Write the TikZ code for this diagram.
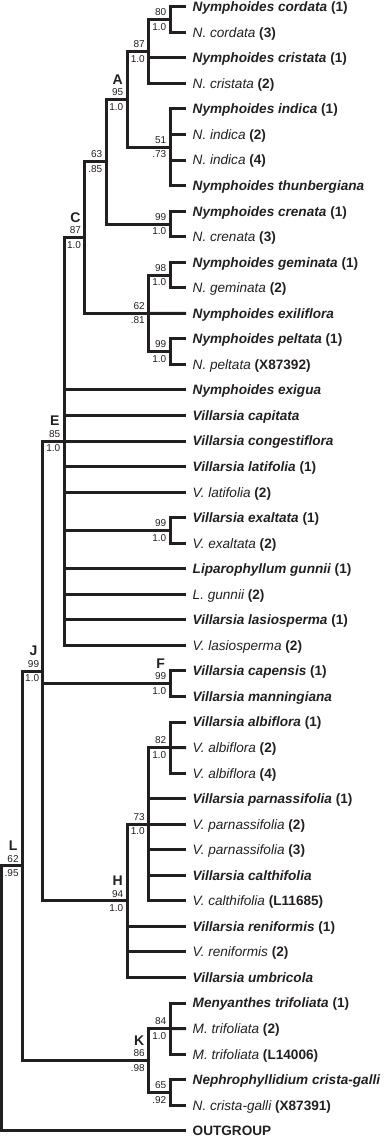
\documentclass[tikz,border=0pt]{standalone}
\usepackage{fontspec}
\setmainfont{Liberation Sans}
\definecolor{ink}{HTML}{231F20}
\newcommand\bix[1]{{\bfseries\itshape #1}}
\newcommand\itx[1]{{\itshape #1}}
\newcommand\bdx[1]{{\bfseries #1}}
\begin{document}
\begin{tikzpicture}[x=1pt,y=-1pt,
  br/.style={draw=ink,line width=3pt,line join=miter,line cap=butt},
  lt/.style={anchor=base west,inner sep=0pt,text=ink,font=\fontsize{13.6}{15}\selectfont},
  bs/.style={anchor=south east,inner sep=0pt,text=ink,font=\fontsize{10}{12}\selectfont},
  pp/.style={anchor=north east,inner sep=0pt,text=ink,font=\fontsize{10}{12}\selectfont},
  cl/.style={anchor=south,inner sep=0pt,text=ink,font=\fontsize{14}{16}\selectfont\bfseries}]
\useasboundingbox (0,0) rectangle (385,1137);
% leaf end points
\foreach \i in {1,...,45} \coordinate (l\i) at (186,{6.8+25.545*(\i-1)});
% internal nodes (x of vertical, y of attachment)
\coordinate (n1) at (170,19.6);
\coordinate (n2) at (148.5,51.5);
\coordinate (n3) at (170,147.3);
\coordinate (nA) at (127,99.4);
\coordinate (n5) at (170,224.0);
\coordinate (n6) at (106,161.7);
\coordinate (n7) at (170,275.0);
\coordinate (n8) at (170,351.6);
\coordinate (n9) at (148.5,313.3);
\coordinate (nC) at (84.7,237.5);
\coordinate (n10) at (170,530.5);
\coordinate (nE) at (64,441.1);
\coordinate (nF) at (170,683.7);
\coordinate (n11) at (170,747.6);
\coordinate (n12) at (148.5,824.3);
\coordinate (nH) at (127,900.9);
\coordinate (nJ) at (42.8,671.0);
\coordinate (n13) at (170,1028.6);
\coordinate (n14) at (170,1092.5);
\coordinate (nK) at (148.5,1060.5);
\coordinate (nL) at (22.3,865.9);
\coordinate (nR) at (1.6,1000);
% branches
\draw[br] (l1) -| (n1) |- (l2);
\draw[br] (n1) -| (n2) |- (l4);
\draw[br] (n2 |- l3) -- (l3);
\draw[br] (l5) -| (n3) |- (l8);
\draw[br] (n3 |- l6) -- (l6);
\draw[br] (n3 |- l7) -- (l7);
\draw[br] (n2) -| (nA) |- (n3);
\draw[br] (l9) -| (n5) |- (l10);
\draw[br] (nA) -| (n6) |- (n5);
\draw[br] (l11) -| (n7) |- (l12);
\draw[br] (l14) -| (n8) |- (l15);
\draw[br] (n7) -| (n9) |- (n8);
\draw[br] (n9) -- (l13);
\draw[br] (n6) -| (nC) |- (n9);
\draw[br] (l21) -| (n10) |- (l22);
\draw[br] (nC) -| (nE) |- (l26);
\foreach \i in {16,17,18,19,20,23,24,25} \draw[br] (nE |- l\i) -- (l\i);
\draw[br] (nE |- n10) -- (n10);
\draw[br] (l27) -| (nF) |- (l28);
\draw[br] (l29) -| (n11) |- (l31);
\draw[br] (n11) -- (l30);
\draw[br] (n11) -| (n12) |- (l36);
\foreach \i in {32,33,34,35} \draw[br] (n12 |- l\i) -- (l\i);
\draw[br] (n12) -| (nH) |- (l39);
\draw[br] (nH |- l37) -- (l37);
\draw[br] (nH |- l38) -- (l38);
\draw[br] (nE) -| (nJ) |- (nH);
\draw[br] (nJ |- nF) -- (nF);
\draw[br] (l40) -| (n13) |- (l42);
\draw[br] (n13) -- (l41);
\draw[br] (l43) -| (n14) |- (l44);
\draw[br] (n13) -| (nK) |- (n14);
\draw[br] (nJ) -| (nL) |- (nK);
\draw[br] (nL) -| (nR) |- (l45);
% support values
\newcommand\supp[3]{%
  \path (#1) ++(-3.5,-3.5) node[bs] (b#1) {#2};
  \path (#1) ++(-3.5,3.5) node[pp] (p#1) {#3};}
\supp{n1}{80}{1.0}
\supp{n2}{87}{1.0}
\supp{n3}{51}{.73}
\supp{nA}{95}{1.0}
\supp{n5}{99}{1.0}
\supp{n6}{63}{.85}
\supp{nC}{87}{1.0}
\supp{n7}{98}{1.0}
\supp{n8}{99}{1.0}
\supp{n9}{62}{.81}
\supp{n10}{99}{1.0}
\supp{nE}{85}{1.0}
\supp{nF}{99}{1.0}
\supp{n11}{82}{1.0}
\supp{n12}{73}{1.0}
\supp{nH}{94}{1.0}
\supp{nJ}{99}{1.0}
\supp{n13}{84}{1.0}
\supp{n14}{65}{.92}
\supp{nK}{86}{.98}
\supp{nL}{62}{.95}
% clade letters
\foreach \c in {A,C,E,F,H,J,K,L} \node[cl] (c\c) at ([yshift=4pt]bn\c.north) {\c};
% leaf labels
\newcommand\leaf[2]{\path (l#1) ++(6.5,4.9) node[lt] (t#1) {#2};}
\leaf{1}{\bix{Nymphoides cordata} \bdx{(1)}}
\leaf{2}{\itx{N. cordata} \bdx{(3)}}
\leaf{3}{\bix{Nymphoides cristata} \bdx{(1)}}
\leaf{4}{\itx{N. cristata} \bdx{(2)}}
\leaf{5}{\bix{Nymphoides indica} \bdx{(1)}}
\leaf{6}{\itx{N. indica} \bdx{(2)}}
\leaf{7}{\itx{N. indica} \bdx{(4)}}
\leaf{8}{\bix{Nymphoides thunbergiana}}
\leaf{9}{\bix{Nymphoides crenata} \bdx{(1)}}
\leaf{10}{\itx{N. crenata} \bdx{(3)}}
\leaf{11}{\bix{Nymphoides geminata} \bdx{(1)}}
\leaf{12}{\itx{N. geminata} \bdx{(2)}}
\leaf{13}{\bix{Nymphoides exiliflora}}
\leaf{14}{\bix{Nymphoides peltata} \bdx{(1)}}
\leaf{15}{\itx{N. peltata} \bdx{(X87392)}}
\leaf{16}{\bix{Nymphoides exigua}}
\leaf{17}{\bix{Villarsia capitata}}
\leaf{18}{\bix{Villarsia congestiflora}}
\leaf{19}{\bix{Villarsia latifolia} \bdx{(1)}}
\leaf{20}{\itx{V. latifolia} \bdx{(2)}}
\leaf{21}{\bix{Villarsia exaltata} \bdx{(1)}}
\leaf{22}{\itx{V. exaltata} \bdx{(2)}}
\leaf{23}{\bix{Liparophyllum gunnii} \bdx{(1)}}
\leaf{24}{\itx{L. gunnii} \bdx{(2)}}
\leaf{25}{\bix{Villarsia lasiosperma} \bdx{(1)}}
\leaf{26}{\itx{V. lasiosperma} \bdx{(2)}}
\leaf{27}{\bix{Villarsia capensis} \bdx{(1)}}
\leaf{28}{\bix{Villarsia manningiana}}
\leaf{29}{\bix{Villarsia albiflora} \bdx{(1)}}
\leaf{30}{\itx{V. albiflora} \bdx{(2)}}
\leaf{31}{\itx{V. albiflora} \bdx{(4)}}
\leaf{32}{\bix{Villarsia parnassifolia} \bdx{(1)}}
\leaf{33}{\itx{V. parnassifolia} \bdx{(2)}}
\leaf{34}{\itx{V. parnassifolia} \bdx{(3)}}
\leaf{35}{\bix{Villarsia calthifolia}}
\leaf{36}{\itx{V. calthifolia} \bdx{(L11685)}}
\leaf{37}{\bix{Villarsia reniformis} \bdx{(1)}}
\leaf{38}{\itx{V. reniformis} \bdx{(2)}}
\leaf{39}{\bix{Villarsia umbricola}}
\leaf{40}{\bix{Menyanthes trifoliata} \bdx{(1)}}
\leaf{41}{\itx{M. trifoliata} \bdx{(2)}}
\leaf{42}{\itx{M. trifoliata} \bdx{(L14006)}}
\leaf{43}{\bix{Nephrophyllidium crista-galli}}
\leaf{44}{\itx{N. crista-galli} \bdx{(X87391)}}
\leaf{45}{\bdx{OUTGROUP}}
\end{tikzpicture}
\end{document}
